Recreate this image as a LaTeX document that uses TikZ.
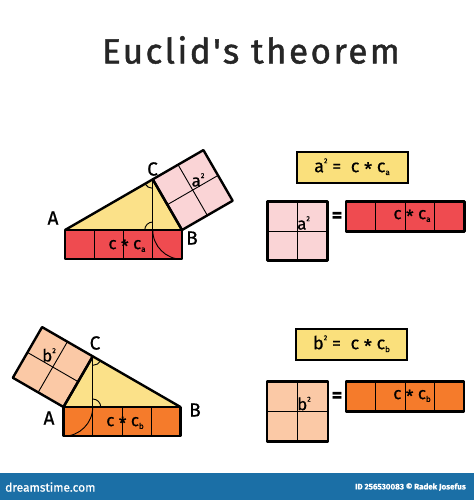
\documentclass[tikz,border=0pt]{standalone}
\usepackage{fontspec}
\setmainfont{Fira Sans}[FakeBold=0.7]
\newfontfamily\titlefont[LetterSpace=7,FakeBold=1.3]{Fira Sans}
\usetikzlibrary{calc}
\definecolor{triY}{HTML}{FBE189}
\definecolor{boxY}{HTML}{FAE07C}
\definecolor{redC}{HTML}{EF4B50}
\definecolor{pinkC}{HTML}{FAD4D6}
\definecolor{orC}{HTML}{F57B2B}
\definecolor{peachC}{HTML}{FBC9A6}
\definecolor{footC}{HTML}{1B6FA6}
\newcommand{\stm}{\raisebox{-0.35ex}{*}}
\newcommand{\sqr}{\raisebox{0.95ex}{\fontsize{7}{7}\selectfont 2}}
\newcommand{\sbs}[1]{\raisebox{-0.3ex}{\fontsize{8}{8}\selectfont #1}}
\begin{document}
\begin{tikzpicture}[x=1pt,y=-1pt,
  outline/.style={line width=2.4pt,line join=round},
  thinl/.style={line width=0.9pt},
  lbl/.style={font=\fontsize{19}{19}\selectfont,inner sep=0pt},
  sqlbl/.style={font=\fontsize{17}{17}\selectfont,inner sep=0pt},
  eqlbl/.style={font=\fontsize{18}{18}\selectfont,inner sep=0pt},
  eqbox/.style={draw,line width=2pt,fill=boxY},
]
\useasboundingbox (0,0) rectangle (474,500);
% title
\node[font=\titlefont\fontsize{35}{35}\selectfont,text=black!85] (title) at (251,50) {Euclid's theorem};

% ===== top triangle =====
\coordinate (tA) at (65,230);
\coordinate (tB) at (182,230);
\coordinate (tH) at (152.75,230);
\coordinate (tC) at (152.75,179.34);
\coordinate (tD) at (203.41,150.09);
\coordinate (tE) at (232.66,200.75);
\coordinate (tR) at (182,259.25);
\fill[triY] (tA)--(tB)--(tC)--cycle;
\fill[pinkC] (tB)--(tC)--(tD)--(tE)--cycle;
\draw[thinl] ($(tB)!0.5!(tC)$) -- ($(tE)!0.5!(tD)$);
\draw[thinl] ($(tC)!0.5!(tD)$) -- ($(tB)!0.5!(tE)$);
\draw[outline] (tB)--(tC)--(tD)--(tE)--cycle;
\fill[redC] (tA) rectangle (tR);
\foreach \x in {94.25,123.5,152.75} \draw[thinl] (\x,230)--(\x,259.25);
\draw[thinl] (tH) arc[start angle=180,end angle=90,radius=29.25];
\draw[outline] (tA) rectangle (tR);
\draw[thinl] (tC)--(tH);
\draw[thinl] ($(tC)+(0,9)$) arc[start angle=90,end angle=150,radius=9];
\draw[thinl] ($(tH)+(-8,0)$) arc[start angle=180,end angle=270,radius=8];
\draw[outline] (tA)--(tC)--(tB);
\node[lbl] (lA1) at (53,218) {A};
\node[lbl] (lB1) at (192,238) {B};
\node[lbl] (lC1) at (152.5,169) {C};
\node[sqlbl] (la2) at (198,180) {a\sqr};
\node[sqlbl] (lca1) at (127,246) {c \stm{} c\sbs{a}};

% ===== bottom triangle =====
\coordinate (bA) at (63.5,407);
\coordinate (bB) at (180.5,407);
\coordinate (bH) at (92.75,407);
\coordinate (bC) at (92.75,356.34);
\coordinate (bD) at (42.09,327.09);
\coordinate (bE) at (12.84,377.75);
\coordinate (bR) at (180.5,436.25);
\fill[triY] (bA)--(bB)--(bC)--cycle;
\fill[peachC] (bA)--(bC)--(bD)--(bE)--cycle;
\draw[thinl] ($(bA)!0.5!(bC)$) -- ($(bE)!0.5!(bD)$);
\draw[thinl] ($(bC)!0.5!(bD)$) -- ($(bA)!0.5!(bE)$);
\draw[outline] (bA)--(bC)--(bD)--(bE)--cycle;
\fill[orC] (bA) rectangle (bR);
\foreach \x in {92.75,122,151.25} \draw[thinl] (\x,407)--(\x,436.25);
\draw[thinl] (bH) arc[start angle=0,end angle=90,radius=29.25];
\draw[outline] (bA) rectangle (bR);
\draw[thinl] (bC)--(bH);
\draw[thinl] ($(bC)+(0,9)$) arc[start angle=90,end angle=30,radius=9];
\draw[thinl] ($(bH)+(8,0)$) arc[start angle=360,end angle=270,radius=8];
\draw[outline] (bB)--(bC)--(bA);
\node[lbl] (lA2) at (49,418) {A};
\node[lbl] (lB2) at (195,410) {B};
\node[lbl] (lC2) at (95,343) {C};
\node[sqlbl] (lb2) at (49,355) {b\sqr};
\node[sqlbl] (lcb1) at (125,423) {c \stm{} c\sbs{b}};

% ===== right top =====
\draw[eqbox] (296.5,151.5) rectangle (407.5,182.5);
\node[eqlbl] (eq1) at (352,167) {a\sqr{} = \ c \stm{} c\sbs{a}};
\fill[pinkC] (267.5,201.5) rectangle (327.5,260.5);
\draw[thinl] (297.5,201.5)--(297.5,260.5);
\draw[thinl] (267.5,231)--(327.5,231);
\draw[outline] (267.5,201.5) rectangle (327.5,260.5);
\node[sqlbl,anchor=south west] (sa) at (297,230) {a\sqr};
\node[font=\bfseries\fontsize{20}{20}\selectfont,inner sep=0pt] (eqs1) at (337,217) {=};
\fill[redC] (346,201.5) rectangle (464.5,231.5);
\foreach \x in {375.6,405.2,434.9} \draw[thinl] (\x,201.5)--(\x,231.5);
\draw[outline] (346,201.5) rectangle (464.5,231.5);
\node[sqlbl] (rca) at (412,216) {c \stm{} c\sbs{a}};

% ===== right bottom =====
\draw[eqbox] (296,328.5) rectangle (407,360);
\node[eqlbl] (eq2) at (351.5,344) {b\sqr{} = \ c \stm{} c\sbs{b}};
\fill[peachC] (267,381.5) rectangle (328,441.5);
\draw[thinl] (297.5,381.5)--(297.5,441.5);
\draw[thinl] (267,411.5)--(328,411.5);
\draw[outline] (267,381.5) rectangle (328,441.5);
\node[sqlbl,anchor=south west] (sb) at (297,410.5) {b\sqr};
\node[font=\bfseries\fontsize{20}{20}\selectfont,inner sep=0pt] (eqs2) at (337,397) {=};
\fill[orC] (346,381.5) rectangle (464,411.5);
\foreach \x in {375.5,405,434.5} \draw[thinl] (\x,381.5)--(\x,411.5);
\draw[outline] (346,381.5) rectangle (464,411.5);
\node[sqlbl] (rcb) at (412,396) {c \stm{} c\sbs{b}};

% ===== footer =====
\fill[footC] (0,472.5) rectangle (474,500);
\node[anchor=west,text=white,font=\fontsize{12}{12}\selectfont,inner sep=0pt] (ft1) at (5,487) {dreamstime.com};
\node[anchor=east,text=white,font=\bfseries\fontsize{8}{8}\selectfont,inner sep=0pt] (ft2) at (466,487) {ID 256530083 \textcopyright{} Radek Josefus};
\end{tikzpicture}
\end{document}
